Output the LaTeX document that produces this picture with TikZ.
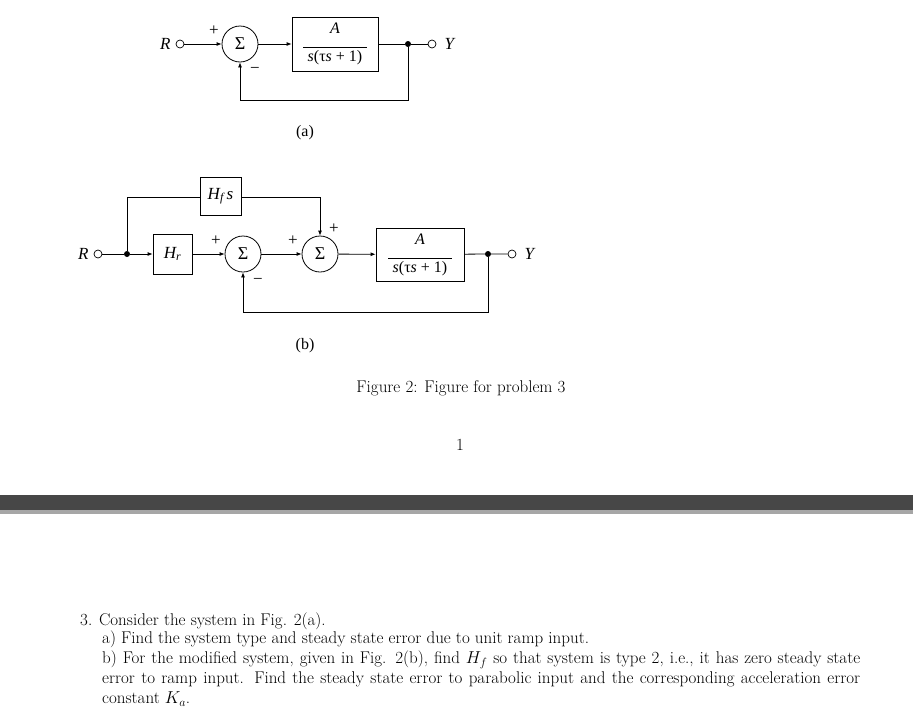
\documentclass[tikz,border=0pt]{standalone}
\usepackage{fontspec}
\newfontfamily\tms{Liberation Serif}
\usetikzlibrary{arrows.meta}
\begin{document}
\begin{tikzpicture}[x=1pt,y=-1pt,
  ln/.style={line width=0.8pt},
  arr/.style={ln,-{Latex[length=5pt,width=4pt]}},
  blk/.style={draw,line width=0.8pt,inner sep=0pt},
  sumc/.style={draw,circle,line width=0.8pt,minimum size=36pt,inner sep=0pt,font=\tms\fontsize{18}{18}\selectfont},
  port/.style={draw,circle,line width=0.7pt,minimum size=8pt,inner sep=0pt,fill=white},
  dot/.style={circle,fill,minimum size=6pt,inner sep=0pt},
  lab/.style={font=\tms\itshape\fontsize{17}{17}\selectfont},
  frac/.style={font=\tms\fontsize{16}{18}\selectfont},
  sg/.style={font=\tms\fontsize{17}{17}\selectfont,inner sep=0pt},
  body/.style={font=\fontsize{17}{25.5}\selectfont}]
\useasboundingbox (0,0) rectangle (913,718);
% (a)
\node[port] (aR) at (180,44) {};
\node[lab,anchor=east] (aRl) at (174,44) {R};
\node[sumc] (aS) at (240,44) {Σ};
\node[blk,minimum width=86pt,minimum height=54pt] (aG) at (335,44) {};
\node[frac] (aGt) at (335,44) {\begin{tabular}{@{}c@{}}\textit{A}\\[-4pt]\rule{64pt}{0.6pt}\\[-4pt]\textit{s}(τ\textit{s} + 1)\end{tabular}};
\node[dot] (aJ) at (408,44) {};
\node[port] (aY) at (432,44) {};
\node[lab,anchor=west] (aYl) at (441,44) {Y};
\coordinate (aC1) at (408,100);
\coordinate (aC2) at (240,100);
\draw[arr] (aR) -- (aS);
\draw[arr] (aS) -- (aG);
\draw[ln] (aG) -- (aJ) -- (aY);
\draw[arr] (aJ) -- (aC1) -- (aC2) -- (aS.south);
\node[sg] (ap) at (214,31) {+};
\node[sg] (am) at (255,70) {−};
\node[font=\tms\fontsize{16}{16}\selectfont] (acap) at (305,133) {(a)};
% (b)
\node[port] (bR) at (98,254) {};
\node[lab,anchor=east] (bRl) at (92,254) {R};
\node[dot] (bJ1) at (127,254) {};
\node[blk,minimum width=39pt,minimum height=40pt,lab] (bH) at (172.5,254) {H\textsubscript{\itshape r}};
\node[sumc] (bS1) at (243,254) {Σ};
\node[sumc] (bS2) at (320,254) {Σ};
\node[blk,minimum width=88pt,minimum height=53pt] (bG) at (420,254.5) {};
\node[frac] (bGt) at (420,254.5) {\begin{tabular}{@{}c@{}}\textit{A}\\[-4pt]\rule{64pt}{0.6pt}\\[-4pt]\textit{s}(τ\textit{s} + 1)\end{tabular}};
\node[dot] (bJ2) at (488,254) {};
\node[port] (bY) at (512,254) {};
\node[lab,anchor=west] (bYl) at (521,254) {Y};
\node[blk,minimum width=41pt,minimum height=38pt,lab] (bF) at (220.5,196) {H\textsubscript{\itshape f}\,s};
\coordinate (bC1) at (127,197);
\coordinate (bC2) at (320,197);
\coordinate (bC3) at (488,312);
\coordinate (bC4) at (243,312);
\draw[ln] (bR) -- (bJ1);
\draw[arr] (bJ1) -- (bH);
\draw[arr] (bH) -- (bS1);
\draw[arr] (bS1) -- (bS2);
\draw[arr] (bS2) -- (bG);
\draw[ln] (bG) -- (bJ2) -- (bY);
\draw[ln] (bJ1) -- (bC1) -- (bF.west |- bC1);
\draw[arr] (bF.east |- bC2) -- (bC2) -- (bS2.north);
\draw[arr] (bJ2) -- (bC3) -- (bC4) -- (bS1.south);
\node[sg] (b1p) at (216,241) {+};
\node[sg] (b1m) at (258,281) {−};
\node[sg] (b2p) at (293,241) {+};
\node[sg] (b2q) at (334,229) {+};
\node[font=\tms\fontsize{16}{16}\selectfont] (bcap) at (305,346) {(b)};
% page text
\node[body] (fig) at (461,388) {Figure 2: Figure for problem 3};
\node[body] (pg) at (460,445) {1};
\fill[black!72] (0,495) rectangle (913,510);
\fill[black!35] (0,510) rectangle (913,514);
\node[body,anchor=base west,inner sep=0pt] (q) at (80,625) {3. Consider the system in Fig. 2(a).};
\node[body,anchor=north west,inner sep=0pt,text width=758pt,align=justify,font=\fontsize{17}{20}\selectfont] (qa) at (102,631)
{a) Find the system type and steady state error due to unit ramp input.\\
b) For the modified system, given in Fig. 2(b), find $H_f$ so that system is type 2, i.e., it has zero steady state error to ramp input. Find the steady state error to parabolic input and the corresponding acceleration error constant $K_a$.};
\end{tikzpicture}
\end{document}
